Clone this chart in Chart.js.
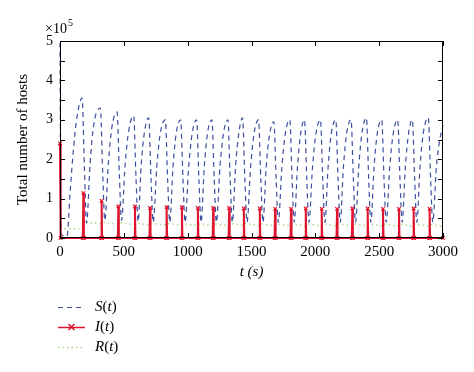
<!DOCTYPE html>
<html>
<head>
<meta charset="utf-8">
<script src="https://cdn.jsdelivr.net/npm/chart.js@4/dist/chart.umd.min.js"></script>
<style>
  body { margin: 0; background: #fff; }
  canvas { display: block; }
</style>
</head>
<body>
<canvas id="hostChart" width="474" height="372"></canvas>
<script>
// S(t), I(t), R(t) in units of 10^5 hosts
const sTime = [0, 8, 55, 80, 104, 130, 173, 191, 208,
  236, 263, 316, 334, 351,
  379, 406, 447, 465, 482,
  510, 537, 577, 595, 612,
  635, 660, 695, 713, 730,
  758, 785, 825, 843, 860,
  885, 910, 945, 963, 980,
  1008, 1035, 1070, 1088, 1105,
  1130, 1155, 1190, 1208, 1225,
  1253, 1280, 1315, 1333, 1350,
  1375, 1400, 1430, 1448, 1465,
  1493, 1520, 1555, 1573, 1590,
  1615, 1640, 1675, 1693, 1710,
  1738, 1765, 1800, 1818, 1835,
  1860, 1885, 1915, 1933, 1950,
  1978, 2005, 2040, 2058, 2075,
  2100, 2125, 2160, 2178, 2195,
  2220, 2245, 2280, 2298, 2315,
  2340, 2365, 2400, 2418, 2435,
  2460, 2485, 2520, 2538, 2555,
  2583, 2610, 2645, 2663, 2680,
  2705, 2730, 2760, 2778, 2795,
  2820, 2845, 2885, 2903, 2920,
  2948, 2975, 3000];
const sHosts = [4.95, 0.1, 0.05, 1.2, 2.2, 3.0, 3.55, 1.8, 0.38,
  1.9, 2.85, 3.3, 1.7, 0.45,
  1.9, 2.8, 3.2, 1.6, 0.45,
  1.85, 2.7, 3.1, 1.55, 0.42,
  1.8, 2.65, 3.05, 1.5, 0.4,
  1.8, 2.65, 3.0, 1.5, 0.4,
  1.8, 2.65, 3.0, 1.5, 0.4,
  1.8, 2.65, 3.0, 1.5, 0.4,
  1.8, 2.65, 3.0, 1.5, 0.4,
  1.8, 2.65, 3.0, 1.5, 0.4,
  1.8, 2.65, 3.05, 1.5, 0.4,
  1.8, 2.65, 3.0, 1.5, 0.4,
  1.8, 2.6, 2.95, 1.5, 0.4,
  1.8, 2.65, 3.0, 1.5, 0.4,
  1.8, 2.65, 3.0, 1.5, 0.4,
  1.8, 2.65, 3.0, 1.5, 0.4,
  1.8, 2.65, 3.0, 1.5, 0.4,
  1.8, 2.65, 3.0, 1.5, 0.4,
  1.8, 2.65, 3.05, 1.5, 0.4,
  1.8, 2.65, 3.0, 1.5, 0.4,
  1.8, 2.65, 3.0, 1.5, 0.4,
  1.8, 2.65, 3.0, 1.5, 0.4,
  1.8, 2.65, 3.05, 1.5, 0.4,
  1.8, 2.5, 2.85];

const iTime = [0, 5,
  179, 183, 187, 322, 326, 330, 453, 457, 461, 583, 587, 591,
  701, 705, 709, 831, 835, 839, 951, 955, 959, 1076, 1080, 1084,
  1196, 1200, 1204, 1321, 1325, 1329, 1436, 1440, 1444, 1561, 1565, 1569,
  1681, 1685, 1689, 1806, 1810, 1814, 1921, 1925, 1929, 2046, 2050, 2054,
  2166, 2170, 2174, 2286, 2290, 2294, 2406, 2410, 2414, 2526, 2530, 2534,
  2651, 2655, 2659, 2766, 2770, 2774, 2891, 2895, 2899,
  3000];
const iHosts = [2.4, 0,
  0, 1.14, 0, 0, 0.94, 0, 0, 0.8, 0, 0, 0.8, 0,
  0, 0.76, 0, 0, 0.78, 0, 0, 0.78, 0, 0, 0.76, 0,
  0, 0.76, 0, 0, 0.76, 0, 0, 0.75, 0, 0, 0.75, 0,
  0, 0.74, 0, 0, 0.74, 0, 0, 0.75, 0, 0, 0.74, 0,
  0, 0.74, 0, 0, 0.75, 0, 0, 0.75, 0, 0, 0.74, 0,
  0, 0.74, 0, 0, 0.75, 0, 0, 0.74, 0,
  0];

const rTime = [0, 180, 195, 320, 335, 450, 465, 580, 595, 700, 715, 830, 845,
  950, 965, 1075, 1090, 1195, 1210, 1320, 1335, 1435, 1450, 1560, 1575,
  1680, 1695, 1805, 1820, 1920, 1935, 2045, 2060, 2165, 2180, 2285, 2300,
  2405, 2420, 2525, 2540, 2650, 2665, 2765, 2780, 2890, 2905, 3000];
const rHosts = [0.25, 0.22, 0.40, 0.36, 0.40, 0.35, 0.39, 0.34, 0.38, 0.33, 0.37, 0.33, 0.37,
  0.32, 0.36, 0.32, 0.36, 0.31, 0.36, 0.31, 0.37, 0.32, 0.37, 0.31, 0.36,
  0.31, 0.36, 0.31, 0.36, 0.31, 0.36, 0.31, 0.36, 0.31, 0.36, 0.31, 0.36,
  0.31, 0.36, 0.30, 0.35, 0.30, 0.35, 0.30, 0.35, 0.30, 0.34, 0.29];

const xTicks = { min: 0, max: 3000, step: 500 };
const yTicks = { min: 0, max: 5, step: 0.5 };

const toPoints = (xs, ys) => xs.map((x, i) => ({ x: x, y: ys[i] }));

const serif = '"Liberation Serif", "Times New Roman", serif';
const sColor = "#3b4f9f";
const iColor = "#e0142c";
const rColor = "#a9d98c";

// MATLAB-like frame, inward ticks, exponent label and legend
const framePlugin = {
  id: "frame",
  afterDatasetsDraw(chart) {
    const { ctx, chartArea: ca, scales } = chart;
    ctx.save();
    ctx.strokeStyle = "#000";
    ctx.lineWidth = 1;
    ctx.strokeRect(ca.left + 0.5, ca.top + 0.5, ca.right - ca.left - 1, ca.bottom - ca.top - 1);
    ctx.beginPath();
    scales.x.ticks.forEach(t => {
      const px = Math.round(scales.x.getPixelForValue(t.value)) + 0.5;
      ctx.moveTo(px, ca.bottom); ctx.lineTo(px, ca.bottom - 5);
      ctx.moveTo(px, ca.top); ctx.lineTo(px, ca.top + 5);
    });
    scales.y.ticks.forEach(t => {
      const py = Math.round(scales.y.getPixelForValue(t.value)) + 0.5;
      ctx.moveTo(ca.left, py); ctx.lineTo(ca.left + 5, py);
      ctx.moveTo(ca.right, py); ctx.lineTo(ca.right - 5, py);
    });
    ctx.stroke();
    ctx.restore();
  },
  afterDraw(chart) {
    const { ctx } = chart;
    ctx.save();
    ctx.fillStyle = "#000";
    ctx.textBaseline = "alphabetic";
    ctx.font = "14px " + serif;
    ctx.fillText("\u00d710", 45, 33);
    const w = ctx.measureText("\u00d710").width;
    ctx.font = "10px " + serif;
    ctx.fillText("5", 45 + w + 1, 26);

    const items = [
      { name: "S", color: sColor, dash: [5, 4], width: 1.2, marker: false },
      { name: "I", color: iColor, dash: [], width: 1.5, marker: true },
      { name: "R", color: rColor, dash: [1.5, 3], width: 1.5, marker: false }
    ];
    items.forEach((it, k) => {
      const y = 307 + k * 20;
      ctx.strokeStyle = it.color;
      ctx.lineWidth = it.width;
      ctx.setLineDash(it.dash);
      ctx.beginPath();
      ctx.moveTo(58, y + 0.5); ctx.lineTo(85, y + 0.5);
      ctx.stroke();
      ctx.setLineDash([]);
      if (it.marker) {
        ctx.beginPath();
        ctx.moveTo(68.5, y - 3); ctx.lineTo(74.5, y + 3);
        ctx.moveTo(74.5, y - 3); ctx.lineTo(68.5, y + 3);
        ctx.stroke();
      }
      ctx.fillStyle = "#000";
      ctx.textBaseline = "middle";
      let x = 95;
      [[it.name, true], ["(", false], ["t", true], [")", false]].forEach(([txt, ital]) => {
        ctx.font = (ital ? "italic " : "") + "15px " + serif;
        ctx.fillText(txt, x, y);
        x += ctx.measureText(txt).width;
      });
    });
    ctx.restore();
  }
};

const ctx = document.getElementById("hostChart").getContext("2d");
const hostChart = new Chart(ctx, {
  type: "line",
  data: {
    datasets: [
      {
        label: "S(t)",
        data: toPoints(sTime, sHosts),
        borderColor: sColor,
        borderWidth: 1.2,
        borderDash: [5, 4],
        pointRadius: 0,
        cubicInterpolationMode: "monotone",
        fill: false,
        clip: 2,
        order: 1
      },
      {
        label: "I(t)",
        data: toPoints(iTime, iHosts),
        borderColor: iColor,
        borderWidth: 2,
        pointStyle: "crossRot",
        pointRadius: 2.5,
        pointBorderColor: iColor,
        pointBorderWidth: 1.2,
        tension: 0,
        fill: false,
        clip: 2,
        order: 0
      },
      {
        label: "R(t)",
        data: toPoints(rTime, rHosts),
        borderColor: rColor,
        borderWidth: 1.5,
        borderDash: [1.5, 3],
        pointRadius: 0,
        tension: 0,
        fill: false,
        order: 2
      }
    ]
  },
  options: {
    responsive: false,
    animation: false,
    layout: { padding: { left: 0, right: 31, top: 41, bottom: 0 } },
    plugins: {
      legend: { display: false },
      tooltip: { enabled: false }
    },
    scales: {
      x: {
        type: "linear",
        min: xTicks.min,
        max: xTicks.max,
        ticks: {
          stepSize: xTicks.step,
          color: "#000",
          padding: 5,
          maxRotation: 0,
          font: { family: serif, size: 15 },
          callback: v => String(v)
        },
        grid: { display: false, drawTicks: false },
        border: { display: false },
        title: {
          display: true,
          text: "t (s)",
          color: "#000",
          font: { family: serif, size: 15, style: "italic" },
          padding: { top: 0, bottom: 91 }
        },
        afterFit: s => { s.height = 134; }
      },
      y: {
        min: yTicks.min,
        max: yTicks.max,
        ticks: {
          stepSize: yTicks.step,
          color: "#000",
          padding: 7,
          autoSkip: false,
          font: { family: serif, size: 14 },
          callback: v => (v % 1 === 0 ? String(v) : "")
        },
        grid: { display: false, drawTicks: false },
        border: { display: false },
        title: {
          display: true,
          text: "Total number of hosts",
          color: "#000",
          font: { family: serif, size: 15 },
          padding: { top: 14, bottom: 0 }
        },
        afterFit: s => { s.width = 60; }
      }
    }
  },
  plugins: [framePlugin]
});
</script>
</body>
</html>
